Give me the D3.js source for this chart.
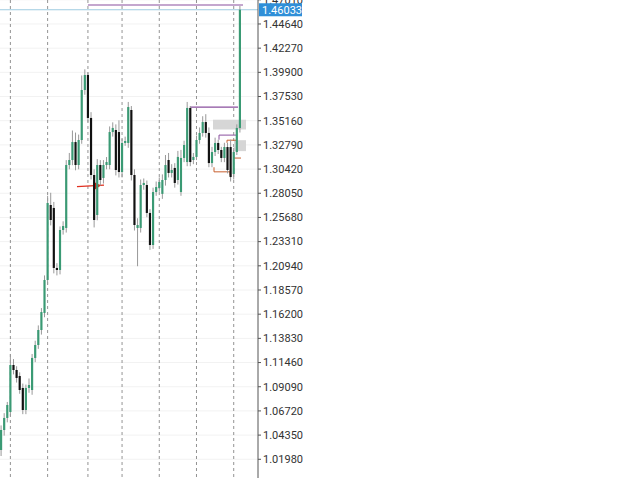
<!DOCTYPE html>
<html><head><meta charset="utf-8">
<script src="https://cdn.jsdelivr.net/npm/d3@7"></script>
<style>body{margin:0;background:#fff}svg{display:block}</style>
</head><body>
<svg id="c" width="638" height="478"></svg>
<script>
const opens = [1.0289,1.0485,1.0603,1.0661,1.1122,1.1073,1.1014,1.0897,1.0681,1.0897,1.0877,1.1191,1.1318,1.1465,1.1632,1.1955,1.2690,1.2661,1.2073,1.2053,1.2445,1.2465,1.3082,1.3131,1.3307,1.3082,1.3327,1.3817,1.3964,1.3543,1.2984,1.2592,1.3082,1.2955,1.3082,1.3082,1.3405,1.3425,1.3405,1.3013,1.3298,1.3298,1.3621,1.2984,1.2465,1.2465,1.2886,1.2886,1.2612,1.2298,1.2817,1.2857,1.2799,1.2935,1.3131,1.3004,1.3053,1.2935,1.2817,1.3151,1.3111,1.3641,1.3131,1.3161,1.3327,1.3396,1.3503,1.3396,1.3101,1.3209,1.3298,1.3229,1.3151,1.3258,1.3258,1.2994,1.3209,1.3445];
const closes= [1.0485,1.0603,1.0730,1.1122,1.1073,1.0995,1.0877,1.0681,1.0897,1.0926,1.1191,1.1318,1.1465,1.1641,1.1955,1.2710,1.2543,1.2073,1.2053,1.2445,1.2484,1.3082,1.3131,1.3307,1.3082,1.3327,1.3817,1.3964,1.3543,1.2984,1.2543,1.3082,1.2935,1.3082,1.3111,1.3405,1.3445,1.3033,1.3013,1.3298,1.3317,1.3650,1.2984,1.2494,1.2494,1.2886,1.2906,1.2612,1.2298,1.2817,1.2866,1.2915,1.2935,1.3082,1.3004,1.3033,1.2906,1.3161,1.3151,1.3278,1.3641,1.3111,1.3161,1.3327,1.3396,1.3503,1.3396,1.3101,1.3209,1.3298,1.3229,1.3151,1.3258,1.3033,1.2964,1.3209,1.3445,1.46033];
const highs = [1.0530,1.0650,1.0760,1.1230,1.1180,1.1110,1.1050,1.0940,1.0930,1.0990,1.1230,1.1360,1.1510,1.1680,1.2000,1.2780,1.2810,1.2720,1.2120,1.2480,1.2530,1.3130,1.3200,1.3420,1.3400,1.3380,1.3960,1.4020,1.3990,1.3600,1.3040,1.3140,1.3130,1.3130,1.3160,1.3460,1.3500,1.3480,1.3520,1.3340,1.3360,1.3700,1.3660,1.3040,1.2560,1.2940,1.2950,1.2930,1.2650,1.2860,1.2920,1.2960,1.2990,1.3180,1.3200,1.3090,1.3100,1.3220,1.3230,1.3320,1.3700,1.3660,1.3200,1.3370,1.3450,1.3560,1.3580,1.3450,1.3260,1.3350,1.3330,1.3260,1.3300,1.3300,1.3330,1.3250,1.3480,1.4640];
const lows  = [1.0230,1.0430,1.0560,1.0620,1.1030,1.0950,1.0840,1.0640,1.0640,1.0850,1.0830,1.1150,1.1280,1.1420,1.1590,1.1910,1.2490,1.2020,1.2000,1.2010,1.2400,1.2420,1.3040,1.3080,1.3030,1.3040,1.3290,1.3770,1.3500,1.2940,1.2470,1.2540,1.2880,1.2900,1.3040,1.3040,1.3360,1.2980,1.2960,1.2960,1.3270,1.3250,1.2930,1.2440,1.2090,1.2420,1.2840,1.2570,1.2250,1.2260,1.2780,1.2820,1.2750,1.2880,1.2960,1.2960,1.2860,1.2890,1.2780,1.3110,1.3070,1.3070,1.3090,1.3130,1.3290,1.3360,1.3350,1.3060,1.3060,1.3170,1.3190,1.3110,1.3110,1.3000,1.2920,1.2940,1.3180,1.3400];
const tickLabels = ["1.47010","1.44640","1.42270","1.39900","1.37530","1.35160","1.32790","1.30420","1.28050","1.25680","1.23310","1.20940","1.18570","1.16200","1.13830","1.11460","1.09090","1.06720","1.04350","1.01980"];
const gridIdx = [3,15,28,39,51,63,75];
const lastPrice = "1.46033";

const svg = d3.select("#c");
const W=638,H=478, axisX=258;
const y = d3.scaleLinear().domain([1.4699, 1.4699-478*0.00098]).range([0,H]);
const x = d3.scaleBand().domain(d3.range(opens.length)).range([0,241]).paddingInner(0.3);
const cx = i => x(i)+x.bandwidth()/2;

svg.selectAll(".hg").data(tickLabels).join("line")
  .attr("x1",0).attr("x2",axisX).attr("y1",d=>y(+d)).attr("y2",d=>y(+d))
  .attr("stroke","#f2f2f2");
svg.selectAll(".vg").data(gridIdx).join("line")
  .attr("x1",d=>cx(d)).attr("x2",d=>cx(d)).attr("y1",0).attr("y2",H)
  .attr("stroke","#777").attr("stroke-dasharray","3,3").attr("stroke-width",0.8);

svg.append("rect").attr("x",213).attr("y",y(1.3526)).attr("width",33).attr("height",y(1.3430)-y(1.3526)).attr("fill","#d6d6d6");
svg.append("rect").attr("x",234).attr("y",y(1.3325)).attr("width",12).attr("height",y(1.3218)-y(1.3325)).attr("fill","#d6d6d6");

svg.append("line").attr("x1",0).attr("x2",axisX).attr("y1",y(1.46033)).attr("y2",y(1.46033)).attr("stroke","#9ecbe0");
const purple="#8a4f9e";
svg.append("line").attr("x1",cx(28)).attr("x2",243).attr("y1",y(1.4650)).attr("y2",y(1.4650)).attr("stroke",purple).attr("stroke-width",1.2);
svg.append("line").attr("x1",cx(61)).attr("x2",238).attr("y1",y(1.3650)).attr("y2",y(1.3650)).attr("stroke",purple).attr("stroke-width",1.2);
svg.append("line").attr("x1",219).attr("x2",236).attr("y1",y(1.3375)).attr("y2",y(1.3375)).attr("stroke",purple);
svg.append("line").attr("x1",219).attr("x2",219).attr("y1",y(1.3375)).attr("y2",y(1.3330)).attr("stroke",purple);
const org="#c8602f";
svg.append("path").attr("d",`M214,${y(1.3060)}L214,${y(1.3015)}L230,${y(1.3015)}L230,${y(1.2980)}`).attr("fill","none").attr("stroke",org);
svg.append("path").attr("d",`M227,${y(1.3300)}L227,${y(1.3325)}L237,${y(1.3325)}`).attr("fill","none").attr("stroke",org);
svg.append("line").attr("x1",234).attr("x2",241).attr("y1",y(1.3150)).attr("y2",y(1.3150)).attr("stroke",org);
svg.append("line").attr("x1",77).attr("x2",104).attr("y1",y(1.2870)).attr("y2",y(1.2885)).attr("stroke","#e03020").attr("stroke-width",1.3);
svg.append("path").attr("d",`M93,${y(1.2920)}L101,${y(1.2880)}L93,${y(1.2830)}Z`).attr("fill","#e02818");

const green="#3a9a74", black="#111";
const g = svg.append("g");
g.selectAll(".w").data(opens).join("line")
  .attr("x1",(d,i)=>cx(i)).attr("x2",(d,i)=>cx(i))
  .attr("y1",(d,i)=>y(highs[i])).attr("y2",(d,i)=>y(lows[i]))
  .attr("stroke","#999").attr("stroke-width",1);
g.selectAll(".b").data(opens).join("rect")
  .attr("x",(d,i)=>x(i)).attr("width",x.bandwidth())
  .attr("y",(d,i)=>y(Math.max(d,closes[i])))
  .attr("height",(d,i)=>Math.max(1,Math.abs(y(d)-y(closes[i]))))
  .attr("fill",(d,i)=>closes[i]>=d?green:black);

svg.append("rect").attr("x",axisX).attr("y",0).attr("width",W-axisX).attr("height",H).attr("fill","#fff");
svg.append("line").attr("x1",axisX).attr("x2",axisX).attr("y1",0).attr("y2",H).attr("stroke","#555");
const ax = svg.selectAll(".t").data(tickLabels).join("g").attr("transform",d=>`translate(${axisX},${y(+d)})`);
ax.append("line").attr("x2",3).attr("stroke","#555");
ax.append("text").attr("x",5).attr("dy","0.35em").text(d=>d)
  .attr("font-family","Roboto, sans-serif").attr("font-size",11).attr("fill","#333");
const ly=y(1.46033);
svg.append("rect").attr("x",axisX+1).attr("y",ly-6.5).attr("width",43).attr("height",13).attr("fill","#2f8fd8");
svg.append("text").attr("x",axisX+4).attr("y",ly).attr("dy","0.35em").text(lastPrice)
  .attr("font-family","Roboto, sans-serif").attr("font-size",11).attr("fill","#fff");
</script>
</body></html>
